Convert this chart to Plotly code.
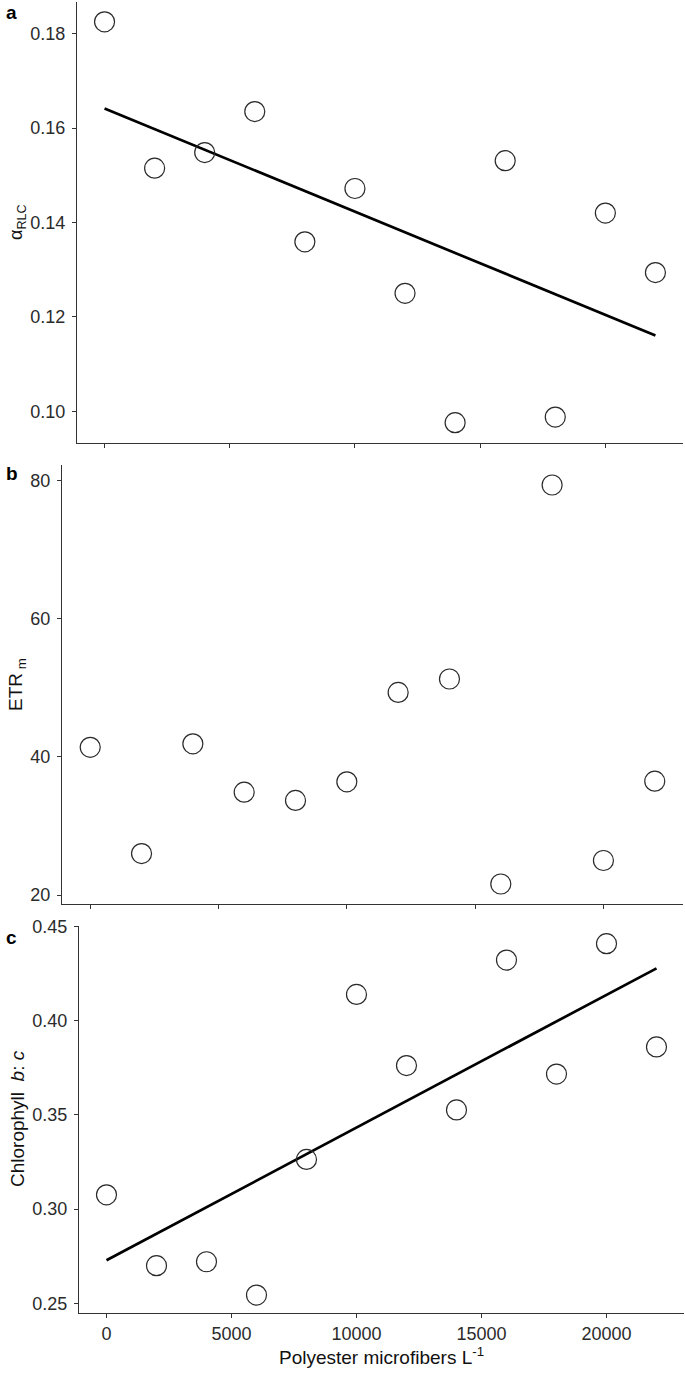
import numpy as np
import plotly.graph_objects as go

# ---------------- data ----------------
fibers = [0, 2000, 4000, 6000, 8000, 10000, 12000, 14000, 16000, 18000, 20000, 22000]
alpha_rlc = [0.1825, 0.1515, 0.1548, 0.1635, 0.1359, 0.1472, 0.1250, 0.0976, 0.1531, 0.0988, 0.1420, 0.1294]
etr_m = [41.4, 26.0, 41.9, 34.9, 33.7, 36.4, 49.35, 51.3, 21.6, 79.4, 25.0, 36.5]
chl_bc = [0.3076, 0.2700, 0.2721, 0.2544, 0.3264, 0.4140, 0.3762, 0.3527, 0.4322, 0.3717, 0.4409, 0.3861]

x_ticks = [0, 5000, 10000, 15000, 20000]
x_ticktext = ["0", "5000", "10000", "15000", "20000"]
alpha_ticks = [0.10, 0.12, 0.14, 0.16, 0.18]
etr_ticks = [20, 40, 60, 80]
chl_ticks = [0.25, 0.30, 0.35, 0.40, 0.45]

W, H = 685, 1374
FONT = "Liberation Sans, Arial, sans-serif"
TICK_COL = "#2b2b2b"
AX_COL = "#333333"


def px(v):
    return v / W


def py(v):
    return 1 - v / H


fig = go.Figure()

marker = dict(symbol="circle-open", size=20, color="#2a2a2a", line=dict(width=1.2, color="#2a2a2a"))


def fit_line(xs, ys):
    k, b = np.polyfit(np.array(xs, float), np.array(ys, float), 1)
    xx = np.array([min(xs), max(xs)], float)
    return xx, k * xx + b


# panel a
xa, ya = fit_line(fibers, alpha_rlc)
fig.add_trace(go.Scatter(x=xa, y=ya, mode="lines", line=dict(color="black", width=2.7),
                         xaxis="x", yaxis="y", showlegend=False, hoverinfo="skip"))
fig.add_trace(go.Scatter(x=fibers, y=alpha_rlc, mode="markers", marker=marker,
                         xaxis="x", yaxis="y", showlegend=False))

# panel b
fig.add_trace(go.Scatter(x=fibers, y=etr_m, mode="markers", marker=marker,
                         xaxis="x2", yaxis="y2", showlegend=False))

# panel c
xc, yc = fit_line(fibers, chl_bc)
fig.add_trace(go.Scatter(x=xc, y=yc, mode="lines", line=dict(color="black", width=2.7),
                         xaxis="x3", yaxis="y3", showlegend=False, hoverinfo="skip"))
fig.add_trace(go.Scatter(x=fibers, y=chl_bc, mode="markers", marker=marker,
                         xaxis="x3", yaxis="y3", showlegend=False))

common_axis = dict(showline=True, linecolor=AX_COL, linewidth=1.3, ticks="outside",
                   ticklen=4, tickwidth=1.2, tickcolor=AX_COL, showgrid=False,
                   zeroline=False, mirror=False, automargin=False,
                   tickfont=dict(family=FONT, size=18, color=TICK_COL))
y_extra = dict(ticklabelstandoff=3)

xrange_ = [-1100, 23100]

fig.update_layout(
    width=W, height=H,
    margin=dict(l=0, r=0, t=0, b=0, autoexpand=False),
    paper_bgcolor="white", plot_bgcolor="white",
    font=dict(family=FONT, color="black"),
    xaxis=dict(common_axis, domain=[px(77), px(683)], range=xrange_, anchor="y",
               tickvals=x_ticks, showticklabels=False),
    yaxis=dict(common_axis, **y_extra, domain=[py(443), py(2)], range=[0.0933, 0.1867], anchor="x",
               tickvals=alpha_ticks, tickformat=".2f"),
    xaxis2=dict(common_axis, domain=[px(62), px(683)], range=xrange_, anchor="y2",
                tickvals=x_ticks, showticklabels=False),
    yaxis2=dict(common_axis, **y_extra, domain=[py(904), py(465)], range=[18.7, 82.3], anchor="x2",
                tickvals=etr_ticks),
    xaxis3=dict(common_axis, domain=[px(79), px(684)], range=xrange_, anchor="y3",
                tickvals=x_ticks, ticktext=x_ticktext),
    yaxis3=dict(common_axis, **y_extra, domain=[py(1313), py(926)], range=[0.2449, 0.4503], anchor="x3",
                tickvals=chl_ticks, tickformat=".2f"),
)

ann = []
# panel letters
for lab, xx, yy in [("a", 11, 12), ("b", 12, 473), ("c", 11, 937)]:
    ann.append(dict(text="<b>%s</b>" % lab, x=px(xx), y=py(yy), xref="paper", yref="paper",
                    xanchor="center", yanchor="middle", showarrow=False,
                    font=dict(family=FONT, size=19, color="black")))
# y titles
for txt, xx, yy, fs in [("α<sub>RLC</sub>", 17, 222, 18),
                        ("ETR<sub> m</sub>", 17, 685, 19),
                        ("Chlorophyll  <i>b</i>: <i>c</i>", 17, 1119, 19)]:
    ann.append(dict(text=txt, x=px(xx), y=py(yy), xref="paper", yref="paper",
                    xanchor="center", yanchor="middle", textangle=-90, showarrow=False,
                    font=dict(family=FONT, size=fs, color="#111111")))
# x title
ann.append(dict(text="Polyester microfibers L<sup>-1</sup>", x=px(381), y=py(1356),
                xref="paper", yref="paper", xanchor="center", yanchor="middle",
                showarrow=False, font=dict(family=FONT, size=19, color="#111111")))
fig.update_layout(annotations=ann)

fig.write_html("out.html", config={"displayModeBar": False},
               post_script="document.body.style.margin='0px';")
